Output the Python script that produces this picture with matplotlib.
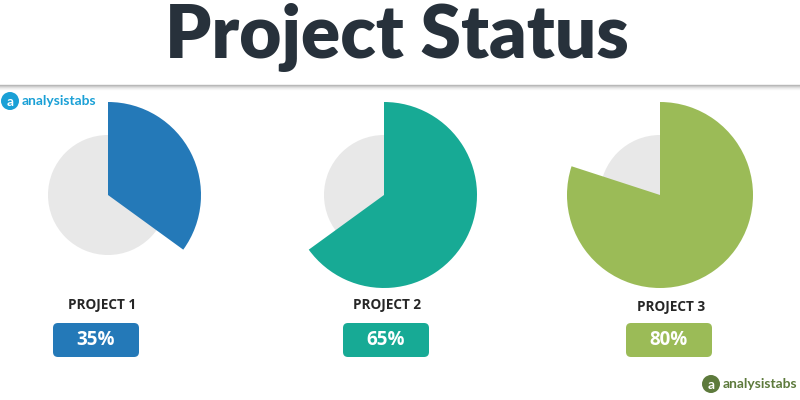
import matplotlib.pyplot as plt
from matplotlib.patches import FancyBboxPatch, Circle

# data
projects = ["PROJECT 1", "PROJECT 2", "PROJECT 3"]
status = [35, 65, 80]
colors = ["#2479b8", "#17aa95", "#9bbb57"]
title = "Project Status"

W, H = 800, 400
fig = plt.figure(figsize=(8, 4), dpi=100)
ax = fig.add_axes([0, 0, 1, 1])

centers_x = [108, 384, 660]
center_y = H - 195
r_bg = 60
r_fg = 93

for cx, pct, col in zip(centers_x, status, colors):
    # grey background disc
    ax.pie([100], colors=["#e8e8e8"], radius=r_bg, center=(cx, center_y),
           startangle=90, frame=True, wedgeprops=dict(linewidth=0))
    # coloured slice, remaining part transparent
    ax.pie([pct, 100 - pct], colors=[col, "none"], radius=r_fg, center=(cx, center_y),
           startangle=90, counterclock=False, frame=True, wedgeprops=dict(linewidth=0))

# labels and value boxes
label_x = [102, 387, 671]
label_y = [305, 305, 307]
box_x = [53, 343, 626]
box_w = 86
for i, (name, pct, col) in enumerate(zip(projects, status, colors)):
    ax.text(label_x[i], H - label_y[i], name, ha="center", va="center",
            fontsize=9.8, fontweight="bold", color="#262626", family="Open Sans")
    box = FancyBboxPatch((box_x[i] + 4, H - 357 + 4), box_w - 8, 34 - 8,
                         boxstyle="round,pad=4,rounding_size=5",
                         facecolor=col, edgecolor="none")
    ax.add_patch(box)
    ax.text(box_x[i] + box_w / 2, H - 340, f"{pct}%", ha="center", va="center",
            fontsize=13.5, fontweight="bold", color="white", family="Open Sans")

# header
ax.text(397, H - 38, title, ha="center", va="center", fontsize=52.5,
        fontweight="heavy", color="#27313b", family="Lato")
shadow = ["#b4b4b4", "#c9c9c9", "#dcdcdc", "#ebebeb", "#f5f5f5"]
for k, c in enumerate(shadow):
    ax.axhline(H - 85 - k, color=c, linewidth=1.0)

# logos
def logo(x, y, col):
    ax.add_patch(Circle((x, H - y), 9, facecolor=col, edgecolor="none"))
    ax.text(x, H - y - 1, "a", ha="center", va="center", fontsize=10,
            fontweight="bold", color="white", family="Lato")
    ax.text(x + 12, H - y, "analysistabs", ha="left", va="center", fontsize=10,
            fontweight="bold", color=col, family="Lato")

logo(10, 101, "#1aa0d6")
logo(711, 384, "#5d7a3c")

ax.set_xlim(0, W)
ax.set_ylim(0, H)
ax.set_aspect("equal")
ax.axis("off")

fig.savefig("out.png", dpi=100)
